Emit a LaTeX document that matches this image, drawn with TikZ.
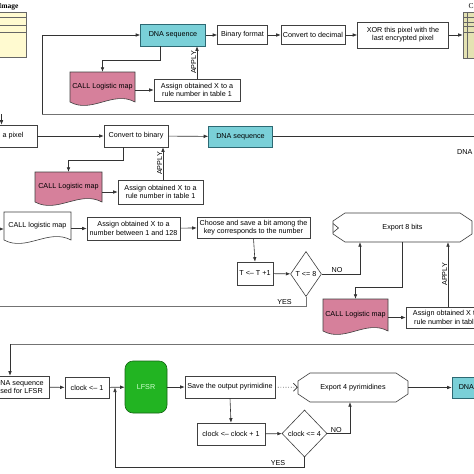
\documentclass[tikz,border=0pt]{standalone}
\usepackage{fontspec}
\setmainfont{Liberation Sans}
\newfontfamily\serfont{Liberation Serif}
\usetikzlibrary{shapes.geometric,arrows.meta,calc}
\definecolor{dnafill}{RGB}{122,208,216}
\definecolor{dnadraw}{RGB}{45,105,115}
\definecolor{pinkfill}{RGB}{214,128,155}
\definecolor{pinkdraw}{RGB}{110,55,75}
\definecolor{lfsrfill}{RGB}{34,180,34}
\definecolor{lfsrdraw}{RGB}{20,100,20}
\definecolor{lfsrtext}{RGB}{205,255,205}
\definecolor{imgyellow}{RGB}{255,250,208}
\definecolor{imgkhaki}{RGB}{228,226,178}
\newcommand{\figfont}{\fontsize{7.2}{8.2}\selectfont}
\tikzset{
  boxline/.style={draw=black!75, line width=0.6pt},
  box/.style={boxline, fill=white, inner sep=0.5pt, align=center, font=\figfont},
  plain/.style={inner sep=0pt, align=center, font=\figfont},
  dnabox/.style={box, draw=dnadraw, fill=dnafill},
  lfsrbox/.style={box, draw=lfsrdraw, fill=lfsrfill, rounded corners=8pt, text=lfsrtext},
  dec/.style={boxline, fill=white, diamond, inner sep=0pt, font=\figfont},
  conn/.style={draw=black!80, line width=0.6pt},
  arr/.style={conn, -{Latex[length=4.5pt,width=3.6pt]}},
  darr/.style={draw=black!80, line width=0.6pt, dotted, -{Straight Barb[length=4pt,width=8pt]}},
  seq/.style={draw=black!55, line width=0.9pt},
  lbl/.style={font=\figfont, inner sep=0.5pt},
  table/.style={draw=black!60, line width=0.6pt, inner sep=0pt}
}
% document shape: name, cx, cy, w, h, fill, text
\newcommand{\docnode}[7]{%
  \draw[boxline, fill=#6] ({#2-#4/2},{#3-#5/2}) -- ({#2+#4/2},{#3-#5/2}) -- ({#2+#4/2},{#3+#5/2})
    .. controls ({#2+#4/6},{#3+#5/2-12}) and ({#2-#4/6},{#3+#5/2+12}) .. ({#2-#4/2},{#3+#5/2}) -- cycle;
  \node[plain, minimum width=#4pt, minimum height=#5pt] (#1) at (#2,#3) {#7};}
% octagon shape: name, cx, cy, w, h, text
\newcommand{\octnode}[6]{%
  \draw[boxline, fill=white] ({#2-#4/2+12},{#3-#5/2}) -- ({#2+#4/2-12},{#3-#5/2}) -- ({#2+#4/2},{#3-#5/2+8})
    -- ({#2+#4/2},{#3+#5/2-8}) -- ({#2+#4/2-12},{#3+#5/2}) -- ({#2-#4/2+12},{#3+#5/2})
    -- ({#2-#4/2},{#3+#5/2-8}) -- ({#2-#4/2},{#3-#5/2+8}) -- cycle;
  \node[plain, minimum width=#4pt, minimum height=#5pt] (#1) at (#2,#3) {#6};}
\begin{document}
\begin{tikzpicture}[x=1pt,y=-1pt]
\useasboundingbox[fill=white] (0,0) rectangle (474,474);

% ---------- section 1 ----------
\node[table, fill=imgyellow, minimum width=33pt, minimum height=45pt] (pimg) at (9.5,34.5) {};
\draw[draw=black!60, line width=0.5pt] (-7,17) -- (26,17) (-7,25) -- (26,25) (-7,32) -- (26,32);
\node[font=\serfont\fontsize{7.5}{8}\selectfont\bfseries, inner sep=0pt] (pimgl) at (8.5,7) {Image};
\node[table, fill=imgkhaki, minimum width=24pt, minimum height=46pt] (cimg) at (475,35) {};
\draw[draw=black!60, line width=0.5pt] (463,17) -- (487,17) (463,22) -- (487,22) (463,26) -- (487,26) (463,32) -- (487,32) (467,12) -- (467,58);
\node[font=\serfont\fontsize{7.5}{8}\selectfont, inner sep=0pt] (cimgl) at (471,6) {C};

\node[dnabox, minimum width=65pt, minimum height=22pt] (dna1) at (173,35) {DNA sequence};
\node[box, minimum width=50pt, minimum height=19pt] (bin1) at (242.5,35) {Binary format};
\node[box, minimum width=64pt, minimum height=19pt] (dec1) at (313,35) {Convert to decimal};
\node[box, minimum width=91pt, minimum height=26pt] (xor1) at (403,35) {XOR this pixel with the\\last encrypted pixel};
\docnode{call1}{102.5}{87}{65}{30}{pinkfill}{CALL Logistic map}
\node[box, minimum width=86pt, minimum height=22pt] (asg1) at (197,90) {Assign obtained X to a\\rule number in table 1};

\draw[arr] (dna1) -- (bin1);
\draw[arr] (bin1) -- (dec1);
\draw[arr] (dec1) -- (xor1);
\draw[arr] (xor1) -- (cimg);
\draw[arr] ([xshift=-13pt]dna1.south) -- ++(0,14) -| (call1.north);
\draw[arr] (call1.east |- asg1.west) -- (asg1.west);
\draw[arr] (asg1.north) -- node[lbl, rotate=90, anchor=south] {APPLY} (asg1.north |- dna1.south);

\coordinate (loopA) at (42,114);
\coordinate (loopAR) at (474,114);
\draw[seq] (loopAR) -- (loopA);
\draw[arr] (loopA) |- (dna1.west);

% ---------- section 2 ----------
\node[box, minimum width=48pt, minimum height=22pt] (pix) at (13,136) {a pixel};
\coordinate (pixin) at (1.5,114);
\draw[arr] (pixin) -- (pixin |- pix.north);
\node[box, minimum width=64pt, minimum height=22pt] (cb) at (136,136) {Convert to binary};
\node[dnabox, minimum width=64pt, minimum height=21pt] (dna2) at (240.5,136.5) {DNA sequence};
\coordinate (dnaR) at (474,136.5);
\node[lbl, anchor=east] (dnalbl) at (473,152) {DNA};
\docnode{call2}{68.5}{187}{67}{30}{pinkfill}{CALL Logistic map}
\node[box, minimum width=85pt, minimum height=24pt] (asg2) at (160.5,192) {Assign obtained X to a\\rule number in table 1};

\draw[arr] (pix) -- (cb);
\draw[arr] (cb) -- (dna2);
\draw[conn] (dna2.east) -- (dnaR);
\draw[arr] ([xshift=-13pt]cb.south) -- ++(0,13) -| (call2.north);
\draw[arr] (call2.east |- asg2.west) -- (asg2.west);
\draw[arr] ([xshift=2.5pt]asg2.north) -- node[lbl, rotate=90, anchor=south] {APPLY} ([xshift=2.5pt]asg2.north |- cb.south);

% ---------- section 3 ----------
\docnode{call3}{37.5}{226}{67}{28}{white}{CALL logistic map}
\coordinate (c3in) at (0,229);
\node[box, minimum width=93pt, minimum height=23pt] (asg3) at (133.5,228.5) {Assign obtained X to a\\number between 1 and 128};
\node[box, minimum width=113pt, minimum height=21pt] (ch) at (253.5,227.5) {Choose and save a bit among the\\key corresponds to the number};
\node[box, minimum width=36pt, minimum height=23pt] (tb) at (255,273.5) {T <-- T +1};
\node[dec, aspect=0.7, minimum width=31pt, minimum height=45pt] (d1) at (306,274) {T <= 8};
\octnode{exp8}{402.5}{227.5}{139}{29}{Export 8 bits}
\draw[conn] (333,223.5) -- (338.5,228) -- (333,232.5);
\docnode{call4}{355.5}{315}{65}{32}{pinkfill}{CALL Logistic map}
\node[box, minimum width=86pt, minimum height=21pt] (asg4) at (449,317.5) {Assign obtained X to a\\rule number in table 1};
\coordinate (yes1L) at (0,306);

\draw[arr] (c3in) -- (c3in -| call3.west);
\draw[arr] (call3.east |- asg3.west) -- (asg3.west);
\draw[arr] (asg3) -- (ch);
\draw[arr] (ch.south) -- (tb.north);
\draw[arr] (tb) -- (d1);
\draw[arr] (d1.east) -| node[lbl, pos=0.2, above=0.5pt] {NO} ([xshift=-42.5pt]exp8.south);
\draw[seq] (d1.south) |- node[lbl, pos=0.535, above=0.5pt] {YES} (yes1L);
\draw[arr] (exp8.south) -- ++(0,45) -| (call4.north);
\draw[arr] (call4.east |- asg4.west) -- (asg4.west);
\draw[arr] ([xshift=-1pt]asg4.north) -- node[lbl, rotate=90, anchor=south] {APPLY} ([xshift=-1pt]asg4.north |- exp8.south);

% ---------- section 4 ----------
\coordinate (s3R) at (474,344);
\coordinate (s3L) at (10,344);
\node[box, minimum width=59pt, minimum height=22pt] (lf0) at (19.5,387) {DNA sequence\\used for LFSR};
\node[box, minimum width=44pt, minimum height=21pt] (clk1) at (87,387.5) {clock <-- 1};
\node[lfsrbox, minimum width=42pt, minimum height=52pt] (lfsr) at (146,387) {LFSR};
\node[box, minimum width=90pt, minimum height=22pt] (sav) at (230,387) {Save the output pyrimidine};
\octnode{exp4}{353}{387.5}{110}{29}{Export 4 pyrimidines}
\node[dnabox, minimum width=62pt, minimum height=21pt] (dna3) at (483,387.5) {DNA sequence};
\node[box, minimum width=68pt, minimum height=22pt] (clk2) at (231,434) {clock <-- clock + 1};
\node[dec, aspect=1, minimum width=45pt, minimum height=47pt] (d2) at (304.5,433.5) {clock <= 4};
\coordinate (yes2) at (115,467);

\draw[seq] (s3R) -- (s3L);
\draw[arr] (s3L) -- (s3L |- lf0.north);
\draw[arr] (lf0) -- (clk1);
\draw[arr] (clk1) -- (lfsr);
\draw[arr] (lfsr) -- (sav);
\draw[darr] (sav) -- (exp4);
\draw[arr] (exp4) -- (dna3);
\draw[arr] (sav.south) -- (clk2.north);
\draw[arr] (clk2) -- (d2);
\draw[arr] (d2.east) -| node[lbl, pos=0.2, above=0.5pt] {NO} ([xshift=-3pt]exp4.south);
\draw[arr] (d2.south) |- node[lbl, pos=0.57, above=0.5pt] {YES} (yes2) -- (yes2 |- clk1.east);
\end{tikzpicture}
\end{document}
